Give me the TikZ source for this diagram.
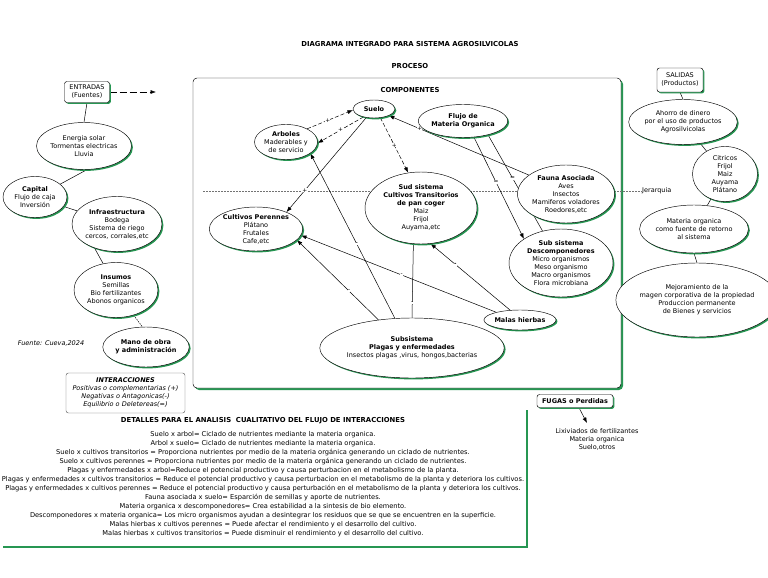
\documentclass[tikz,border=0pt]{standalone}
\usepackage{fontspec}
\setmainfont{DejaVu Sans}
\usetikzlibrary{shapes.geometric,arrows.meta,shadows}
\definecolor{sgreen}{RGB}{38,150,82}
\newcommand\myNodeFont{\fontsize{6.5}{8}\selectfont}
\newcommand\myTitleFont{\fontsize{6.85}{8}\selectfont\bfseries}
\newcommand\myDetFont{\fontsize{6.65}{9}\selectfont}
\newcommand\myLabFont{\fontsize{5.8}{6}\selectfont}
\pgfdeclarelayer{paperlayer}
\pgfdeclarelayer{boxlayer}
\pgfdeclarelayer{edgelayer}
\pgfsetlayers{paperlayer,boxlayer,edgelayer,main}
\begin{document}
\begin{tikzpicture}[x=1pt,y=-1pt,
 gshadow/.style={drop shadow={shadow xshift=1.4pt,shadow yshift=-1.4pt,fill=sgreen,opacity=1}},
 oval/.style={ellipse,draw=black,line width=0.45pt,fill=white,inner sep=0pt,align=center,font=\myNodeFont,gshadow},
 rbox/.style={rectangle,rounded corners=2.5pt,draw=black,line width=0.45pt,fill=white,inner sep=0pt,align=center,font=\myNodeFont,gshadow},
 con/.style={line width=0.5pt},
 arr/.style={-{Latex[length=5.5pt,width=4pt]}},
 dsh/.style={dash pattern=on 4pt off 2pt},
 lab/.style={fill=white,inner sep=0.3pt,font=\myLabFont},
]
\useasboundingbox (0,0) rectangle (768,578);
\begin{pgfonlayer}{paperlayer}
\fill[white] (0,0) rectangle (768,578);
\end{pgfonlayer}

% titles
\node[font=\myTitleFont] (title) at (410,44) {DIAGRAMA INTEGRADO PARA SISTEMA AGROSILVICOLAS};
\node[font=\myTitleFont] (proc) at (410,66) {PROCESO};
\node[font=\myTitleFont] (comp) at (410,90) {COMPONENTES};

% main process box
\begin{pgfonlayer}{boxlayer}
\node[draw=black,line width=0.45pt,fill=white,rounded corners=4pt,minimum width=428,minimum height=310,
  drop shadow={shadow xshift=2pt,shadow yshift=-2pt,fill=sgreen,opacity=1}] (procbox) at (407,233) {};
\draw[sgreen,line width=1.8pt] (3,547) -- (527,547) -- (527,410);
\end{pgfonlayer}

% components
\node[oval,minimum width=42,minimum height=18] (suelo) at (374,109) {\textbf{Suelo}};
\node[oval,minimum width=63,minimum height=35] (arb) at (286,142) {\textbf{Arboles}\\Maderables y\\de servicio};
\node[oval,minimum width=77,minimum height=33] (flujo) at (463,121) {\textbf{Flujo de}\\\textbf{Materia Organica}};
\node[oval,minimum width=112,minimum height=72] (sud) at (421,208) {\textbf{Sud sistema}\\\textbf{Cultivos Transitorios}\\\textbf{de pan coger}\\Maiz\\Frijol\\Auyama,etc};
\node[oval,minimum width=92,minimum height=44] (per) at (256,229) {\textbf{Cultivos Perennes}\\Plátano\\Frutales\\Cafe,etc};
\node[oval,minimum width=97,minimum height=58] (fauna) at (566,194) {\textbf{Fauna Asociada}\\Aves\\Insectos\\Mamiferos voladores\\Roedores,etc};
\node[oval,minimum width=104,minimum height=68] (desc) at (561,263) {\textbf{Sub sistema}\\\textbf{Descomponedores}\\Micro organismos\\Meso organismo\\Macro organismos\\Flora microbiana};
\node[oval,minimum width=61,minimum height=20] (malas) at (520,320) {\textbf{Malas hierbas}};
\node[oval,minimum width=155,minimum height=60] (plagas) at (412,348) {\textbf{Subsistema}\\\textbf{Plagas y enfermedades}\\Insectos plagas ,virus, hongos,bacterias};
\node[font=\myNodeFont,anchor=west,inner sep=0pt] (jer) at (642,191) {Jerarquia};

% left column
\node[rbox,minimum width=45,minimum height=21] (entradas) at (87,92) {ENTRADAS\\(Fuentes)};
\coordinate (entend) at (156,92);
\node[oval,minimum width=88,minimum height=47] (energia) at (84,146) {Energia solar\\Tormentas electricas\\Lluvia};
\node[oval,minimum width=64,minimum height=41] (capital) at (35,197) {\textbf{Capital}\\Flujo de caja\\Inversión};
\node[oval,minimum width=90,minimum height=55] (infra) at (117,224) {\textbf{Infraestructura}\\Bodega\\Sistema de riego\\cercos, corrales,etc};
\node[oval,minimum width=84,minimum height=55] (insumos) at (116,290) {\textbf{Insumos}\\Semillas\\Bio fertilizantes\\Abonos organicos};
\node[oval,minimum width=77,minimum height=40] (mano) at (146,347) {\textbf{Mano de obra}\\\textbf{y administración}};
\node[font=\myNodeFont\itshape] (fuente) at (51,343) {Fuente: Cueva,2024};
\node[rectangle,rounded corners=2.5pt,draw=black!60,line width=0.45pt,fill=white,minimum width=119,minimum height=40,align=center,inner sep=0pt,font=\myNodeFont\itshape] (inter) at (125.5,393)
 {\textbf{INTERACCIONES}\\Positivas o complementarias (+)\\Negativas o Antagonicas(-)\\Equilibrio o Deletereas(=)};

% right column
\node[rbox,minimum width=46,minimum height=24] (salidas) at (680,80) {SALIDAS\\(Productos)};
\node[oval,minimum width=99,minimum height=45] (ahorro) at (683,122) {Ahorro de dinero\\por el uso de productos\\Agrosilvicolas};
\node[oval,minimum width=65,minimum height=55] (citricos) at (725,174) {Citricos\\Frijol\\Maiz\\Auyama\\Plátano};
\node[oval,minimum width=78,minimum height=48] (materia) at (694,229) {Materia organica\\como fuente de retorno\\al sistema};
\node[oval,minimum width=140,minimum height=74] (mejora) at (697,300) {Mejoramiento de la\\magen corporativa de la propiedad\\Produccion permanente\\de Bienes y servicios};

% fugas
\node[rbox,minimum width=76,minimum height=13,font=\myNodeFont\bfseries] (fugas) at (575,401) {FUGAS o Perdidas};
\node[font=\myNodeFont,align=center,anchor=north] (fugtext) at (597,425) {Lixiviados de fertilizantes\\Materia organica\\Suelo,otros};

% details
\node[font=\myTitleFont] (dettitle) at (263,421) {DETALLES PARA EL ANALISIS \ CUALITATIVO DEL FLUJO DE INTERACCIONES};
\node[font=\myDetFont,align=center,inner sep=0pt] (dettext) at (263,484.5) {%
Suelo x arbol= Ciclado de nutrientes mediante la materia organica.\\
Arbol x suelo= Ciclado de nutrientes mediante la materia organica.\\
Suelo x cultivos transitorios = Proporciona nutrientes por medio de la materia orgánica generando un ciclado de nutrientes.\\
Suelo x cultivos perennes = Proporciona nutrientes por medio de la materia orgánica generando un ciclado de nutrientes.\\
Plagas y enfermedades x arbol=Reduce el potencial productivo y causa perturbacion en el metabolismo de la planta.\\
Plagas y enfermedades x cultivos transitorios = Reduce el potencial productivo y causa perturbacion en el metabolismo de la planta y deteriora los cultivos.\\
Plagas y enfermedades x cultivos perennes = Reduce el potencial productivo y causa perturbación en el metabolismo de la planta y deteriora los cultivos.\\
Fauna asociada x suelo= Esparción de semillas y aporte de nutrientes.\\
Materia organica x descomponedores= Crea estabilidad a la sintesis de bio elemento.\\
Descomponedores x materia organica= Los micro organismos ayudan a desintegrar los residuos que se que se encuentren en la superficie.\\
Malas hierbas x cultivos perennes = Puede afectar el rendimiento y el desarrollo del cultivo.\\
Malas hierbas x cultivos transitorios = Puede disminuir el rendimiento y el desarrollo del cultivo.};

\coordinate (dotstart) at (203,191);
\coordinate (fugend) at (587,423);

\begin{pgfonlayer}{edgelayer}
\draw[black!55,line width=0.5pt,dash pattern=on 1.5pt off 1.5pt] (dotstart) -- (jer.west);
% component interactions
\draw[con,dsh,arr] (arb.32) -- node[lab,pos=.45]{+} (suelo.183);
\draw[con,dsh,arr] (suelo.217) -- node[lab,pos=.5]{+} (arb.358);
\draw[con,arr] (suelo.228) -- node[lab,pos=.77]{+} (per.29);
\draw[con,dsh,arr] (suelo.306) -- node[lab,pos=.5]{+} (sud.110);
\draw[con,arr] (fauna.153) -- node[lab,pos=.78]{+} (suelo.336);
\draw[con,arr] (flujo.304) -- node[lab,pos=.44]{=} (desc.147);
\draw[con] (flujo.331) -- node[lab,pos=.45]{=} (desc.120);
\draw[con,arr] (plagas.120) -- node[lab,pos=.45]{-} (arb.335);
\draw[con,arr] (plagas.140) -- node[lab,pos=.36]{-} (per.345);
\draw[con] (plagas.north) -- node[lab,pos=.2]{-} (sud.258);
\draw[con,arr] (malas.162) -- node[lab,pos=.485]{-} (per.352);
\draw[con,arr] (malas.135) -- node[lab,pos=.69,font=\myLabFont\bfseries]{-} (sud.285);
% left
\draw[con,dash pattern=on 7pt off 3pt,arr] (entradas.east) -- (entend);
\draw[con] (entradas.south) -- (energia.north);
\draw[con] (energia.277) -- (capital.27);
\draw[con] (capital) -- (infra);
\draw[con] (infra.227) -- (insumos.116);
\draw[con,dash pattern=on 1.5pt off 1pt] (insumos.305) -- (mano.100);
% right
\draw[con] (salidas.south) -- (ahorro.north);
\draw[con] (ahorro) -- (citricos);
\draw[con] (citricos) -- (materia);
\draw[con] (materia.south) -- (mejora.north);
\draw[con,arr] (fugas.south) ++(4,0) coordinate (fugstart) -- (fugend);
\end{pgfonlayer}
\end{tikzpicture}
\end{document}
